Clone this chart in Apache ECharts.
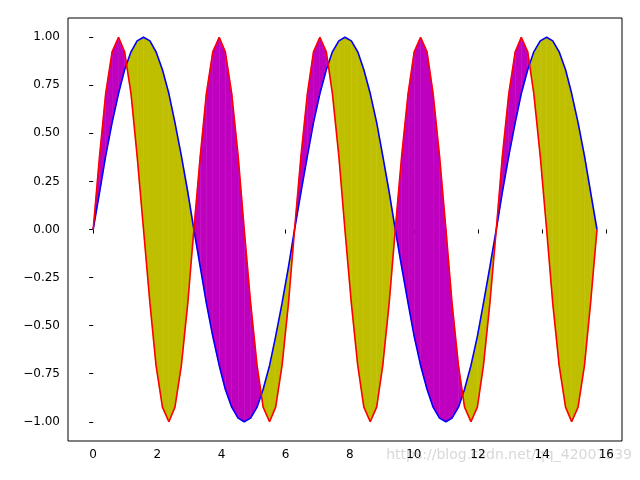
<!DOCTYPE html>
<html>
<head>
<meta charset="utf-8">
<script src="https://cdn.jsdelivr.net/npm/echarts@6/dist/echarts.min.js"></script>
<style>html,body{margin:0;padding:0;background:#fff}#main{width:640px;height:480px}</style>
</head>
<body>
<div id="main"></div>
<script>
// x samples (0 .. 5*pi)
var xs = [0,0.20,0.39,0.59,0.79,0.98,1.18,1.37,1.57,1.77,1.96,2.16,2.36,2.55,2.75,2.95,3.14,3.34,3.53,3.73,3.93,4.12,4.32,4.52,4.71,4.91,5.11,5.30,5.50,5.69,5.89,6.09,6.28,6.48,6.68,6.87,7.07,7.27,7.46,7.66,7.85,8.05,8.25,8.44,8.64,8.84,9.03,9.23,9.42,9.62,9.82,10.01,10.21,10.41,10.60,10.80,11.00,11.19,11.39,11.58,11.78,11.98,12.17,12.37,12.57,12.76,12.96,13.16,13.35,13.55,13.74,13.94,14.14,14.33,14.53,14.73,14.92,15.12,15.32,15.51,15.71];
// blue curve
var blueY = [0,.195,.383,.556,.707,.831,.924,.981,1,.981,.924,.831,.707,.556,.383,.195,0,-.195,-.383,-.556,-.707,-.831,-.924,-.981,-1,-.981,-.924,-.831,-.707,-.556,-.383,-.195,
  0,.195,.383,.556,.707,.831,.924,.981,1,.981,.924,.831,.707,.556,.383,.195,0,-.195,-.383,-.556,-.707,-.831,-.924,-.981,-1,-.981,-.924,-.831,-.707,-.556,-.383,-.195,
  0,.195,.383,.556,.707,.831,.924,.981,1,.981,.924,.831,.707,.556,.383,.195,0];
// red curve
var redY = [0,.383,.707,.924,1,.924,.707,.383,0,-.383,-.707,-.924,-1,-.924,-.707,-.383,
  0,.383,.707,.924,1,.924,.707,.383,0,-.383,-.707,-.924,-1,-.924,-.707,-.383,
  0,.383,.707,.924,1,.924,.707,.383,0,-.383,-.707,-.924,-1,-.924,-.707,-.383,
  0,.383,.707,.924,1,.924,.707,.383,0,-.383,-.707,-.924,-1,-.924,-.707,-.383,
  0,.383,.707,.924,1,.924,.707,.383,0,-.383,-.707,-.924,-1,-.924,-.707,-.383,0];
var xTicks = [0,2,4,6,8,10,12,14,16];
var yTicks = [-1,-0.75,-0.5,-0.25,0,0.25,0.5,0.75,1];

var chart = echarts.init(document.getElementById('main'));

function renderFill(params, api) {
  var i = params.dataIndex;
  var x0 = xs[i], x1 = xs[i + 1];
  var d0 = redY[i] - blueY[i], d1 = redY[i + 1] - blueY[i + 1];
  var polys = [];
  function poly(pts, up) {
    polys.push({
      type: 'polygon',
      shape: { points: pts.map(function (p) { return api.coord(p); }) },
      style: { fill: up ? '#bf00bf' : '#bfbf00', stroke: up ? '#bf00bf' : '#bfbf00', lineWidth: 0.5 }
    });
  }
  if (d0 * d1 < 0) {
    var t = d0 / (d0 - d1);
    var xc = x0 + t * (x1 - x0), yc = blueY[i] + t * (blueY[i + 1] - blueY[i]);
    poly([[x0, blueY[i]], [x0, redY[i]], [xc, yc]], d0 > 0);
    poly([[xc, yc], [x1, redY[i + 1]], [x1, blueY[i + 1]]], d1 > 0);
  } else {
    poly([[x0, blueY[i]], [x0, redY[i]], [x1, redY[i + 1]], [x1, blueY[i + 1]]], (d0 + d1) > 0);
  }
  return { type: 'group', children: polys };
}

var option = {
  animation: false,
  backgroundColor: '#fff',
  grid: { left: 68, right: 18, top: 18, bottom: 39, show: true, borderColor: '#000', borderWidth: 1 },
  xAxis: {
    type: 'value', min: -0.785, max: 16.49,
    axisLine: { show: false },
    axisTick: { show: true, length: 4, lineStyle: { color: '#000' }, customValues: xTicks },
    axisLabel: { color: '#000', fontSize: 12, fontFamily: 'DejaVu Sans', customValues: xTicks, margin: 8 },
    splitLine: { show: false }
  },
  yAxis: {
    type: 'value', min: -1.1, max: 1.1,
    axisLine: { show: false },
    axisTick: { show: true, length: 4, lineStyle: { color: '#000' }, customValues: yTicks },
    axisLabel: { color: '#000', fontSize: 12, fontFamily: 'DejaVu Sans', customValues: yTicks, margin: 8,
      formatter: function (v) { return v.toFixed(2).replace('-', '\u2212'); } },
    splitLine: { show: false }
  },
  series: [
    {
      type: 'custom', renderItem: renderFill, z: 1,
      data: xs.slice(0, -1).map(function (x, i) { return [x, i]; }),
      encode: { x: 0, y: -1 }
    },
    {
      type: 'line', data: xs.map(function (x, i) { return [x, blueY[i]]; }),
      showSymbol: false, smooth: false, z: 2,
      lineStyle: { color: '#0000ff', width: 1.6 }
    },
    {
      type: 'line', data: xs.map(function (x, i) { return [x, redY[i]]; }),
      showSymbol: false, smooth: false, z: 3,
      lineStyle: { color: '#ff0000', width: 1.6 }
    }
  ],
  graphic: [{
    type: 'text', right: 8, bottom: 18,
    style: { text: 'https://blog.csdn.net/qq_42007339', fill: 'rgba(200,200,200,0.7)', fontSize: 14, fontFamily: 'DejaVu Sans' }
  }]
};
chart.setOption(option);
</script>
</body>
</html>
